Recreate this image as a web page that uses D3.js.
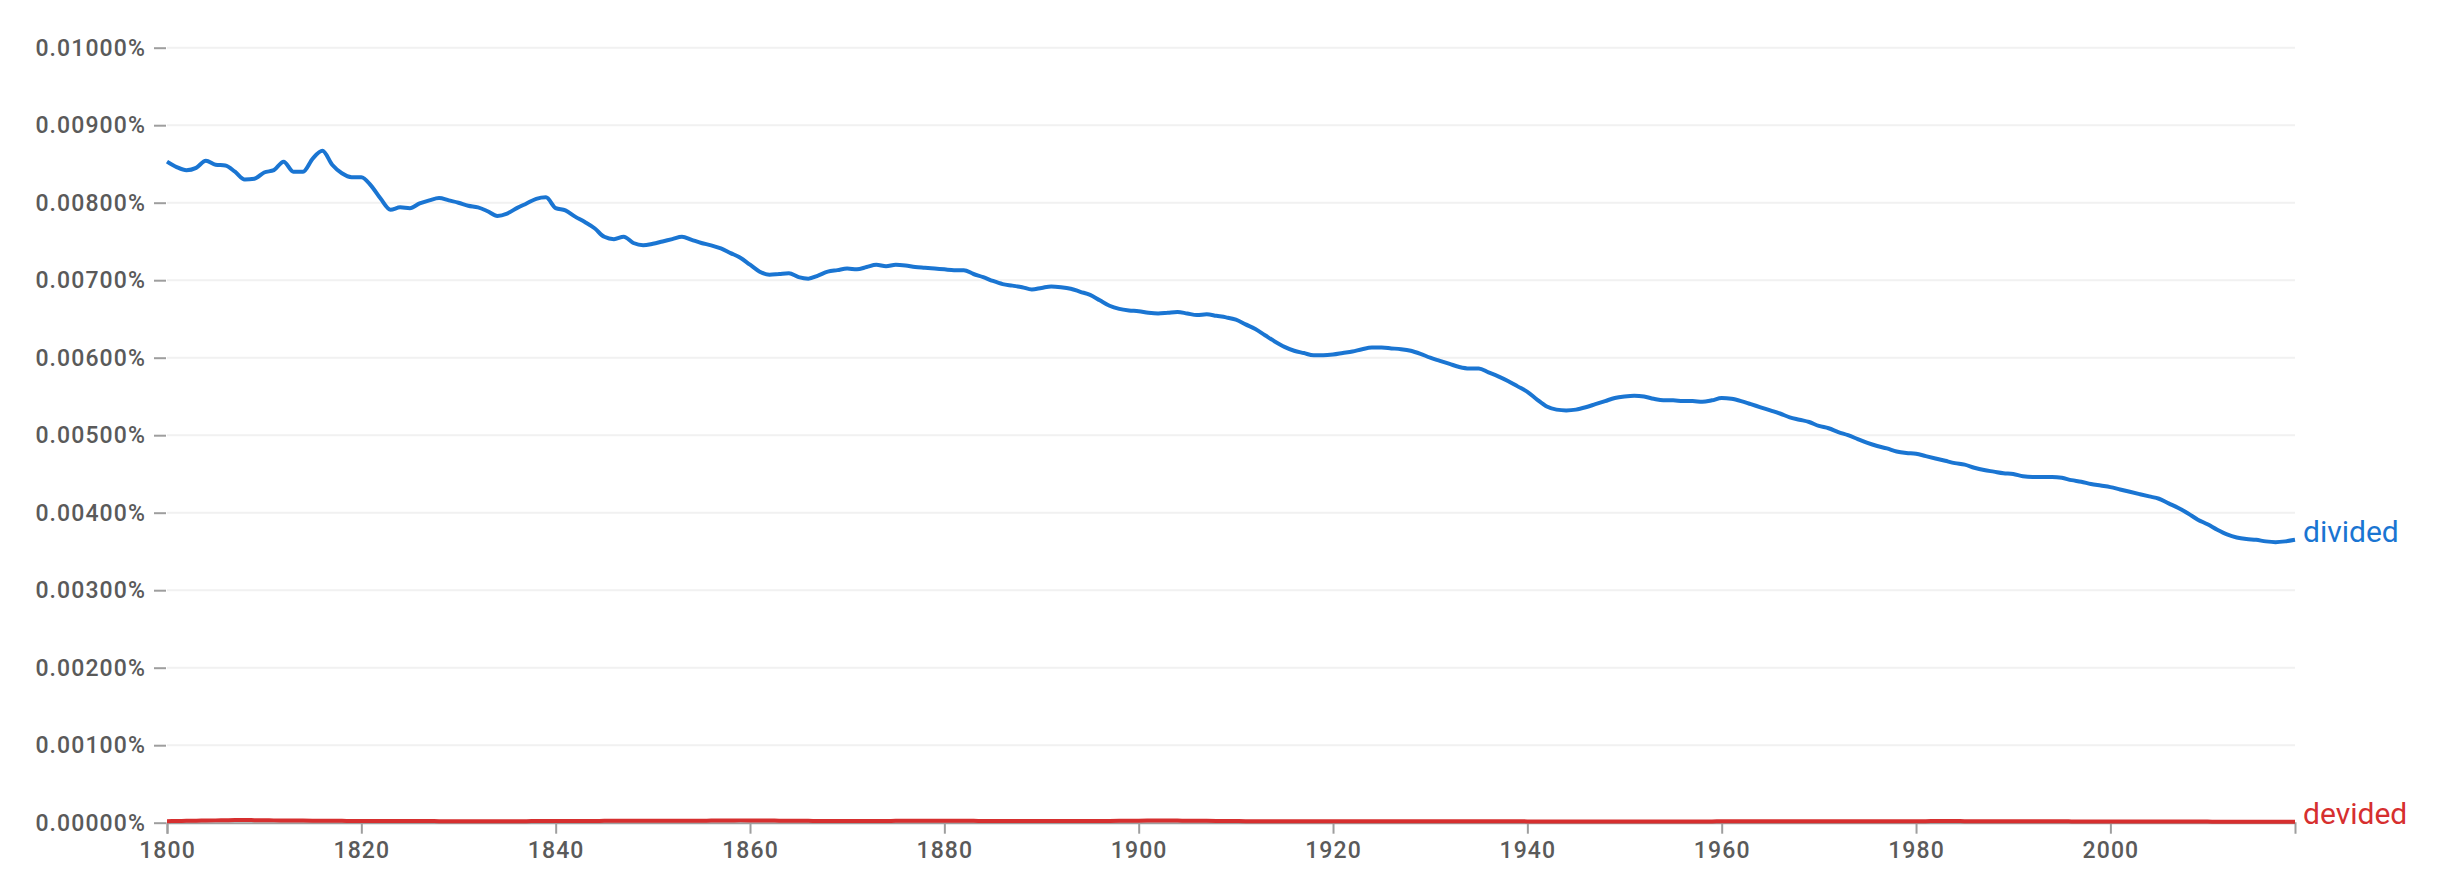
<!DOCTYPE html>
<html>
<head>
<meta charset="utf-8">
<script src="https://cdn.jsdelivr.net/npm/d3@7"></script>
<style>
  body { margin: 0; background: #fff; }
  text { font-family: Roboto, sans-serif; }
</style>
</head>
<body>
<div id="chart"></div>
<script>
// ngram data, values in percent
var years = d3.range(1800, 2020);

var divided = [
  0.00853, 0.00846, 0.00842, 0.00845, 0.00854, 0.00849, 0.00848, 0.00840, 0.00830, 0.00831,
  0.00839, 0.00842, 0.00853, 0.00840, 0.00840, 0.00857, 0.00867, 0.00849, 0.00838, 0.00833,
  0.00833, 0.00822, 0.00805, 0.00791, 0.00794, 0.00793, 0.00799, 0.00803, 0.00806, 0.00803,
  0.00800, 0.00796, 0.00794, 0.00789, 0.00783, 0.00786, 0.00793, 0.00799, 0.00805, 0.00807,
  0.00793, 0.00790, 0.00782, 0.00775, 0.00767, 0.00756, 0.00753, 0.00756, 0.00748, 0.00745,
  0.00747, 0.00750, 0.00753, 0.00756, 0.00752, 0.00748, 0.00745, 0.00741, 0.00735, 0.00729,
  0.00720, 0.00711, 0.00707, 0.00708, 0.00709, 0.00704, 0.00702, 0.00706, 0.00711, 0.00713,
  0.00715, 0.00714, 0.00717, 0.00720, 0.00718, 0.00720, 0.00719, 0.00717, 0.00716, 0.00715,
  0.00714, 0.00713, 0.00713, 0.00708, 0.00704, 0.00699, 0.00695, 0.00693, 0.00691, 0.00688,
  0.00690, 0.00692, 0.00691, 0.00689, 0.00685, 0.00681, 0.00674, 0.00667, 0.00663, 0.00661,
  0.00660, 0.00658, 0.00657, 0.00658, 0.00659, 0.00657, 0.00655, 0.00656, 0.00654, 0.00652,
  0.00649, 0.00643, 0.00637, 0.00629, 0.00621, 0.00614, 0.00609, 0.00606, 0.00603, 0.00603,
  0.00604, 0.00606, 0.00608, 0.00611, 0.00613, 0.00613, 0.00612, 0.00611, 0.00609, 0.00605,
  0.00600, 0.00596, 0.00592, 0.00588, 0.00586, 0.00586, 0.00581, 0.00576, 0.00570, 0.00563,
  0.00556, 0.00546, 0.00537, 0.00533, 0.00532, 0.00533, 0.00536, 0.00540, 0.00544, 0.00548,
  0.00550, 0.00551, 0.00550, 0.00547, 0.00545, 0.00545, 0.00544, 0.00544, 0.00543, 0.00545,
  0.00548, 0.00547, 0.00544, 0.00540, 0.00536, 0.00532, 0.00528, 0.00523, 0.00520, 0.00517,
  0.00512, 0.00509, 0.00504, 0.00500, 0.00495, 0.00490, 0.00486, 0.00483, 0.00479, 0.00477,
  0.00476, 0.00473, 0.00470, 0.00467, 0.00464, 0.00462, 0.00458, 0.00455, 0.00453, 0.00451,
  0.00450, 0.00447, 0.00446, 0.00446, 0.00446, 0.00445, 0.00442, 0.00440, 0.00437, 0.00435,
  0.00433, 0.00430, 0.00427, 0.00424, 0.00421, 0.00418, 0.00412, 0.00406, 0.00399, 0.00391,
  0.00385, 0.00378, 0.00372, 0.00368, 0.00366, 0.00365, 0.00363, 0.00362, 0.00363, 0.00365
];

var devided = [
  0.000020, 0.000022, 0.000024, 0.000026, 0.000028, 0.000030, 0.000032, 0.000034, 0.000034, 0.000033,
  0.000032, 0.000030, 0.000029, 0.000028, 0.000027, 0.000026, 0.000025, 0.000024, 0.000024, 0.000023,
  0.000023, 0.000022, 0.000022, 0.000022, 0.000021, 0.000021, 0.000021, 0.000021, 0.000020, 0.000020,
  0.000020, 0.000020, 0.000020, 0.000020, 0.000020, 0.000020, 0.000020, 0.000020, 0.000021, 0.000021,
  0.000021, 0.000021, 0.000022, 0.000022, 0.000023, 0.000024, 0.000025, 0.000025, 0.000025, 0.000025,
  0.000025, 0.000025, 0.000025, 0.000025, 0.000025, 0.000026, 0.000027, 0.000028, 0.000029, 0.000030,
  0.000030, 0.000029, 0.000028, 0.000026, 0.000025, 0.000024, 0.000024, 0.000023, 0.000023, 0.000023,
  0.000023, 0.000023, 0.000023, 0.000023, 0.000023, 0.000024, 0.000024, 0.000024, 0.000024, 0.000024,
  0.000024, 0.000024, 0.000024, 0.000024, 0.000023, 0.000023, 0.000022, 0.000022, 0.000021, 0.000021,
  0.000021, 0.000022, 0.000022, 0.000022, 0.000022, 0.000022, 0.000022, 0.000023, 0.000024, 0.000025,
  0.000026, 0.000027, 0.000028, 0.000028, 0.000027, 0.000026, 0.000025, 0.000024, 0.000023, 0.000022,
  0.000021, 0.000020, 0.000020, 0.000019, 0.000019, 0.000019, 0.000019, 0.000019, 0.000019, 0.000019,
  0.000019, 0.000019, 0.000019, 0.000019, 0.000019, 0.000019, 0.000020, 0.000020, 0.000020, 0.000020,
  0.000020, 0.000020, 0.000019, 0.000019, 0.000019, 0.000019, 0.000019, 0.000018, 0.000018, 0.000018,
  0.000017, 0.000017, 0.000016, 0.000016, 0.000016, 0.000016, 0.000016, 0.000016, 0.000016, 0.000016,
  0.000017, 0.000017, 0.000017, 0.000017, 0.000017, 0.000017, 0.000017, 0.000017, 0.000017, 0.000017,
  0.000018, 0.000018, 0.000018, 0.000018, 0.000018, 0.000018, 0.000018, 0.000018, 0.000018, 0.000018,
  0.000018, 0.000018, 0.000018, 0.000018, 0.000018, 0.000018, 0.000018, 0.000019, 0.000019, 0.000019,
  0.000020, 0.000020, 0.000021, 0.000021, 0.000021, 0.000020, 0.000020, 0.000020, 0.000019, 0.000019,
  0.000019, 0.000019, 0.000018, 0.000018, 0.000018, 0.000018, 0.000017, 0.000017, 0.000017, 0.000016,
  0.000016, 0.000016, 0.000015, 0.000015, 0.000015, 0.000015, 0.000015, 0.000014, 0.000014, 0.000014,
  0.000014, 0.000013, 0.000013, 0.000013, 0.000012, 0.000012, 0.000012, 0.000012, 0.000012, 0.000012
];

var yTicks = [0, 0.001, 0.002, 0.003, 0.004, 0.005, 0.006, 0.007, 0.008, 0.009, 0.010];
var xTicks = [1800, 1820, 1840, 1860, 1880, 1900, 1920, 1940, 1960, 1980, 2000];

var series = [
  {name: "divided", values: divided, color: "#1a75d2"},
  {name: "devided", values: devided, color: "#d62f2f"}
];

var W = 2454, H = 886;
var margin = {top: 47.7, right: 159, bottom: 63.3, left: 167};
var width = W - margin.left - margin.right,
    height = H - margin.top - margin.bottom;

var svg = d3.select("#chart")
  .append("svg")
  .attr("width", W)
  .attr("height", H)
  .append("g")
  .attr("transform", "translate(" + margin.left + "," + margin.top + ")");

var x = d3.scaleLinear()
  .domain([1800, 2019])
  .range([0, width]);

var y = d3.scaleLinear()
  .domain([0, 0.010])
  .range([height, 0]);

// gridlines
svg.selectAll("grid")
  .data(yTicks)
  .enter()
  .append("line")
  .attr("x1", 0)
  .attr("x2", width)
  .attr("y1", function(d) { return y(d); })
  .attr("y2", function(d) { return y(d); })
  .attr("stroke", "#f1f1f1")
  .attr("stroke-width", 2);

// y axis
var yAxis = svg.append("g")
  .attr("transform", "translate(-1,0)")
  .call(d3.axisLeft(y)
    .tickValues(yTicks)
    .tickSize(12)
    .tickPadding(8)
    .tickFormat(function(d) { return d3.format(".5f")(d) + "%"; }));
yAxis.select(".domain").remove();

// x axis
var xAxis = svg.append("g")
  .attr("transform", "translate(0," + height + ")")
  .call(d3.axisBottom(x)
    .tickValues(xTicks)
    .tickSize(11)
    .tickPadding(8)
    .tickFormat(d3.format("d")));
xAxis.select(".domain").attr("stroke", "#9e9e9e").attr("stroke-width", 2);

svg.selectAll(".tick line").attr("stroke", "#9e9e9e").attr("stroke-width", 2);
svg.selectAll(".tick text")
  .attr("fill", "#5a5a5a")
  .style("font-size", "23px")
  .style("font-weight", "500")
  .style("letter-spacing", "1.1px");

var line = d3.line()
  .x(function(d, i) { return x(years[i]); })
  .y(function(d) { return y(d); })
  .curve(d3.curveMonotoneX);

series.forEach(function(s) {
  svg.append("path")
    .datum(s.values)
    .attr("fill", "none")
    .attr("stroke", s.color)
    .attr("stroke-width", 4)
    .attr("stroke-linejoin", "round")
    .attr("d", line);

  var last = s.values[s.values.length - 1];
  svg.append("text")
    .attr("x", x(2019) + 8)
    .attr("y", y(last) - 8)
    .attr("dy", "0.35em")
    .attr("fill", s.color)
    .style("font-size", "30px")
    .text(s.name);
});
</script>
</body>
</html>
